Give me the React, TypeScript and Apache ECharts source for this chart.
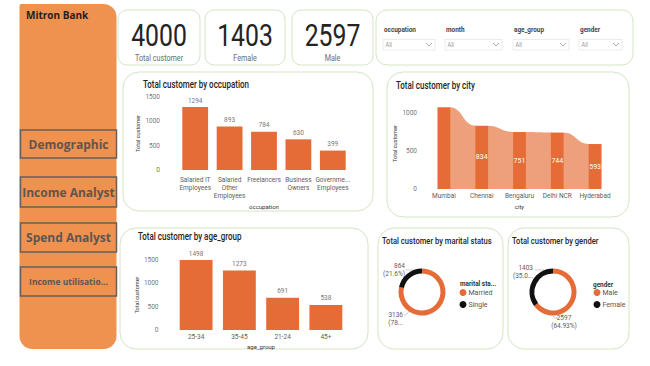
import React, { useEffect, useRef } from "react";
import * as echarts from "echarts";

// ---------------- data ----------------
const kpiValues = [4000, 1403, 2597];
const kpiLabels = ["Total customer", "Female", "Male"];
const filterNames = ["occupation", "month", "age_group", "gender"];
const filterValue = "All";
const navItems = ["Demographic", "Income Analyst", "Spend Analyst", "Income utilisatio..."];
const bankName = "Mitron Bank";

const occupations = ["Salaried IT Employees", "Salaried Other Employees", "Freelancers", "Business Owners", "Government Employees"];
const occupationTicks = ["Salaried IT\nEmployees", "Salaried\nOther\nEmployees", "Freelancers", "Business\nOwners", "Governme...\nEmployees"];
const occupationValues = [1294, 893, 784, 630, 399];

const cities = ["Mumbai", "Chennai", "Bengaluru", "Delhi NCR", "Hyderabad"];
const cityValues = [1078, 834, 751, 744, 593];

const ageGroups = ["25-34", "35-45", "21-24", "45+"];
const ageValues = [1498, 1273, 691, 538];

const maritalNames = ["Married", "Single"];
const maritalValues = [3136, 864];
const genderNames = ["Male", "Female"];
const genderValues = [2597, 1403];

// ---------------- styles ----------------
const ORANGE = "#E66C37";
const RIBBON = "#EEA07B";
const SIDEBAR = "#EF914F";
const BORDER = "#D4E4C4";
const DARK = "#252423";
const GRAY = "#605E5C";
const FONT = "Roboto, 'Noto Sans', sans-serif";
const NAV_FONT = "'Open Sans', 'Noto Sans', sans-serif";
const NARROW = 0.8;

const navLayout = [
  { y: 130, h: 28, size: 12 },
  { y: 177, h: 30, size: 12 },
  { y: 223, h: 29, size: 12 },
  { y: 267, h: 29, size: 8.5 },
];
const kpiLayout = [
  { x: 118, w: 82 },
  { x: 205, w: 80 },
  { x: 292, w: 81 },
];
const filterLayout = [
  { x: 383, w: 52 },
  { x: 445, w: 57 },
  { x: 513, w: 56 },
  { x: 579, w: 43 },
];

function text(x: number, y: number, t: string, o: any = {}) {
  const narrow = o.fontFamily ? 1 : NARROW;
  return {
    type: "text",
    x,
    y,
    scaleX: narrow,
    silent: true,
    z: 5,
    style: {
      text: t,
      fontFamily: o.fontFamily || FONT,
      fontSize: o.fontSize || 10,
      fontWeight: o.fontWeight || "normal",
      fill: o.fill || DARK,
      align: o.align || "left",
      verticalAlign: "middle",
    },
  };
}

function panel(x: number, y: number, w: number, h: number, r: any) {
  return {
    type: "rect",
    silent: true,
    z: 0,
    shape: { x, y, width: w, height: h, r },
    style: { fill: "#fff", stroke: BORDER, lineWidth: 1 },
  };
}

function buildGraphic() {
  const els: any[] = [];
  // sidebar
  els.push({
    type: "rect",
    silent: true,
    z: 0,
    shape: { x: 19.5, y: 4, width: 97, height: 345, r: [2, 13, 13, 13] },
    style: { fill: SIDEBAR },
  });
  els.push(text(26, 15, bankName, { fontFamily: NAV_FONT, fontSize: 10, fontWeight: "bold", fill: "#1f1f1f" }));
  navItems.forEach((n, i) => {
    const l = navLayout[i];
    els.push({
      type: "rect",
      silent: true,
      z: 1,
      shape: { x: 20.5, y: l.y, width: 96, height: l.h },
      style: { fill: "none", stroke: "#6A5F57", lineWidth: 1.5 },
    });
    els.push(text(68.5, l.y + l.h / 2, n, { fontFamily: NAV_FONT, fontSize: l.size, fontWeight: "bold", fill: "#5E5650", align: "center" }));
  });
  // KPI cards
  kpiValues.forEach((v, i) => {
    const l = kpiLayout[i];
    els.push(panel(l.x, 10, l.w, 55, 9));
    els.push(text(l.x + l.w / 2, 36, String(v), { fontSize: 31, fill: DARK, align: "center" }));
    els.push(text(l.x + l.w / 2, 57.5, kpiLabels[i], { fontSize: 9, fill: "#6b6b6b", align: "center" }));
  });
  // filter panel
  els.push(panel(376, 10, 257, 55, 11));
  filterNames.forEach((n, i) => {
    const l = filterLayout[i];
    els.push(text(l.x + 1, 29.5, n, { fontSize: 8, fontWeight: "bold", fill: "#444" }));
    els.push({
      type: "rect",
      silent: true,
      z: 2,
      shape: { x: l.x, y: 39.5, width: l.w, height: 10.5 },
      style: { fill: "#fff", stroke: "#E6E6E6", lineWidth: 0.8 },
    });
    els.push(text(l.x + 2.5, 45, filterValue, { fontSize: 7, fill: "#999" }));
    els.push({
      type: "polyline",
      silent: true,
      z: 3,
      shape: { points: [[l.x + l.w - 9, 43], [l.x + l.w - 6, 46], [l.x + l.w - 3, 43]] },
      style: { stroke: "#999", lineWidth: 0.8, fill: "none" },
    });
  });
  // chart panels
  els.push(panel(123, 72, 250, 139, 16));
  els.push(panel(387, 72, 242, 145, 16));
  els.push(panel(120, 228, 248, 121, 16));
  els.push(panel(378, 228, 125, 121, 16));
  els.push(panel(508, 228, 121, 121, 16));
  // titles
  els.push(text(143, 85, "Total customer by occupation", { fontSize: 10, fontWeight: 500 }));
  els.push(text(396, 86, "Total customer by city", { fontSize: 10, fontWeight: 500 }));
  els.push(text(138, 237, "Total customer by age_group", { fontSize: 10, fontWeight: 500 }));
  els.push(text(382, 241, "Total customer by marital status", { fontSize: 9.5, fontWeight: 500 }));
  els.push(text(512, 241, "Total customer by gender", { fontSize: 9.5, fontWeight: 500 }));
  // legend titles
  els.push(text(460, 283, "marital sta...", { fontSize: 8, fontWeight: "bold", fill: "#333" }));
  els.push(text(593, 284, "gender", { fontSize: 8, fontWeight: "bold", fill: "#333" }));
  return els;
}

const yLabel = { fontSize: 6.5, color: "#777", fontFamily: FONT, formatter: (v: number) => String(v) };
const xLabel = { fontSize: 6.5, color: GRAY, fontFamily: FONT, lineHeight: 8 };
const axisNameStyle = { fontSize: 6, color: "#333", fontFamily: FONT };

function pieLabelFormatter(values: number[]) {
  const total = values.reduce((s, v) => s + v, 0);
  return (p: any) => {
    const pct = Math.round((p.value * 10000) / total) / 100;
    return `${p.value}\n(${pct}%)`;
  };
}

const MARITAL_CENTER = [422, 292];
const GENDER_CENTER = [553, 292];

function legendOf(names: string[], left: number) {
  return {
    data: names,
    orient: "vertical",
    left,
    top: 289,
    padding: 0,
    itemWidth: 7,
    itemHeight: 7,
    itemGap: 5,
    icon: "circle",
    selectedMode: false,
    textStyle: { fontSize: 7, color: "#555", fontFamily: FONT, padding: [0, 0, 0, -3] },
  };
}

function buildOption() {
  return {
    animation: false,
    textStyle: { fontFamily: FONT },
    graphic: { elements: buildGraphic() },
    legend: [legendOf(maritalNames, 459.5), legendOf(genderNames, 593.5)],
    grid: [
      { left: 178, top: 97, width: 172, height: 73 },
      { left: 425, top: 98, width: 189, height: 91 },
      { left: 174.5, top: 260, width: 173, height: 70 },
    ],
    xAxis: [
      {
        gridIndex: 0,
        type: "category",
        data: occupations,
        axisLine: { show: false },
        axisTick: { show: false },
        axisLabel: { ...xLabel, margin: 6, interval: 0, formatter: (_v: string, i: number) => occupationTicks[i] },
        name: "occupation",
        nameLocation: "middle",
        nameGap: 33,
        nameTextStyle: axisNameStyle,
      },
      {
        gridIndex: 1,
        type: "category",
        data: cities,
        axisLine: { show: false },
        axisTick: { show: false },
        axisLabel: { ...xLabel, margin: 3, interval: 0 },
        name: "city",
        nameLocation: "middle",
        nameGap: 14,
        nameTextStyle: axisNameStyle,
      },
      {
        gridIndex: 2,
        type: "category",
        data: ageGroups,
        axisLine: { show: false },
        axisTick: { show: false },
        axisLabel: { ...xLabel, margin: 3, interval: 0 },
        name: "age_group",
        nameLocation: "middle",
        nameGap: 13,
        nameTextStyle: axisNameStyle,
      },
    ],
    yAxis: [
      {
        gridIndex: 0,
        type: "value",
        min: 0,
        max: 1500,
        interval: 500,
        splitLine: { show: false },
        axisLabel: { ...yLabel, margin: 18 },
        name: "Total customer",
        nameLocation: "middle",
        nameGap: 33,
        nameTextStyle: { ...axisNameStyle, fontSize: 5.5 },
      },
      {
        gridIndex: 1,
        type: "value",
        min: 0,
        max: 1200,
        interval: 500,
        splitLine: { show: false },
        axisLabel: { ...yLabel, margin: 8, formatter: (v: number) => (v % 500 === 0 ? String(v) : "") },
        name: "Total customer",
        nameLocation: "middle",
        nameGap: 27,
        nameTextStyle: { ...axisNameStyle, fontSize: 5.5 },
      },
      {
        gridIndex: 2,
        type: "value",
        min: 0,
        max: 1500,
        interval: 500,
        splitLine: { show: false },
        axisLabel: { ...yLabel, margin: 16 },
        name: "Total customer",
        nameLocation: "middle",
        nameGap: 34,
        nameTextStyle: { ...axisNameStyle, fontSize: 5.5 },
      },
    ],
    series: [
      {
        type: "bar",
        xAxisIndex: 0,
        yAxisIndex: 0,
        data: occupationValues,
        barWidth: "75%",
        itemStyle: { color: ORANGE },
        label: { show: true, position: "top", distance: 3, fontSize: 6.5, color: "#777", fontFamily: FONT },
      },
      {
        type: "custom",
        xAxisIndex: 1,
        yAxisIndex: 1,
        z: 1,
        silent: true,
        data: cityValues.slice(0, -1).map((v, i) => [i, v, cityValues[i + 1]]),
        encode: { x: 0, y: [1, 2] },
        renderItem: (_params: any, api: any) => {
          const i = api.value(0);
          const a = api.coord([i, api.value(1)]);
          const b = api.coord([i + 1, api.value(2)]);
          const base = api.coord([i, 0])[1];
          const band = api.size([1, 0])[0];
          const hw = (band * 0.34) / 2;
          const x1 = a[0] + hw - 0.5;
          const x2 = b[0] - hw + 0.5;
          const xm = (x1 + x2) / 2;
          return {
            type: "path",
            shape: {
              pathData: `M${x1} ${base}L${x1} ${a[1]}C${xm} ${a[1]} ${xm} ${b[1]} ${x2} ${b[1]}L${x2} ${base}Z`,
            },
            style: { fill: RIBBON },
          };
        },
      },
      {
        type: "bar",
        xAxisIndex: 1,
        yAxisIndex: 1,
        z: 3,
        data: cityValues.map((v, i) => (i === 0 ? { value: v, label: { show: false } } : v)),
        barWidth: "34%",
        itemStyle: { color: ORANGE },
        label: { show: true, position: "inside", fontSize: 7, color: "#fff", fontFamily: FONT },
      },
      {
        type: "bar",
        xAxisIndex: 2,
        yAxisIndex: 2,
        data: ageValues,
        barWidth: "76%",
        itemStyle: { color: ORANGE },
        label: { show: true, position: "top", distance: 3, fontSize: 6.5, color: "#777", fontFamily: FONT },
      },
      {
        type: "pie",
        center: MARITAL_CENTER,
        radius: [18.5, 23.5],
        startAngle: 90,
        clockwise: true,
        color: [ORANGE, "#111"],
        silent: true,
        data: maritalNames.map((n, i) => ({
          name: n,
          value: maritalValues[i],
          label: { width: i === 0 ? 18 : 30, overflow: "truncate", ellipsis: "..." },
        })),
        label: {
          show: true,
          position: "outside",
          formatter: pieLabelFormatter(maritalValues),
          fontSize: 6.5,
          lineHeight: 8.5,
          color: GRAY,
          fontFamily: FONT,
          align: "right",
        },
        labelLine: { show: true, lineStyle: { color: "#aaa", width: 0.6 } },
        labelLayout: (p: any) => {
          const c = MARITAL_CENTER;
          if (p.dataIndex === 1) {
            return {
              x: c[0] - 17,
              y: c[1] - 22,
              align: "right",
              verticalAlign: "middle",
              labelLinePoints: [[c[0] - 8, c[1] - 22], [c[0] - 12, c[1] - 22], [c[0] - 16, c[1] - 22]],
            };
          }
          return {
            x: c[0] - 19,
            y: c[1] + 27,
            align: "right",
            verticalAlign: "middle",
            labelLinePoints: [[c[0] - 13, c[1] + 19], [c[0] - 15, c[1] + 22], [c[0] - 18, c[1] + 24]],
          };
        },
      },
      {
        type: "pie",
        center: GENDER_CENTER,
        radius: [18.5, 23.5],
        startAngle: 90,
        clockwise: true,
        color: [ORANGE, "#111"],
        silent: true,
        data: genderNames.map((n, i) => ({
          name: n,
          value: genderValues[i],
          label: { width: i === 0 ? 40 : 22, overflow: "truncate", ellipsis: "..." },
        })),
        label: {
          show: true,
          position: "outside",
          formatter: pieLabelFormatter(genderValues),
          fontSize: 6.5,
          lineHeight: 8.5,
          color: GRAY,
          fontFamily: FONT,
        },
        labelLine: { show: true, lineStyle: { color: "#aaa", width: 0.6 } },
        labelLayout: (p: any) => {
          const c = GENDER_CENTER;
          if (p.dataIndex === 1) {
            return {
              x: c[0] - 20,
              y: c[1] - 20,
              align: "right",
              verticalAlign: "middle",
              labelLinePoints: [[c[0] - 9, c[1] - 22], [c[0] - 14, c[1] - 22], [c[0] - 18, c[1] - 22]],
            };
          }
          return {
            x: c[0] + 11,
            y: c[1] + 30,
            align: "center",
            verticalAlign: "middle",
            labelLinePoints: [[c[0], c[1] + 23.5], [c[0] + 2, c[1] + 26], [c[0] + 5, c[1] + 26]],
          };
        },
      },
    ],
  };
}

export default function App() {
  const ref = useRef<HTMLDivElement>(null);
  useEffect(() => {
    if (!ref.current) return;
    const chart = echarts.init(ref.current, null, { renderer: "svg" });
    chart.setOption(buildOption() as any);
    return () => chart.dispose();
  }, []);
  return (
    <div
      ref={ref}
      style={{ position: "fixed", left: 0, top: 0, width: 650, height: 366, background: "#fff" }}
    />
  );
}
